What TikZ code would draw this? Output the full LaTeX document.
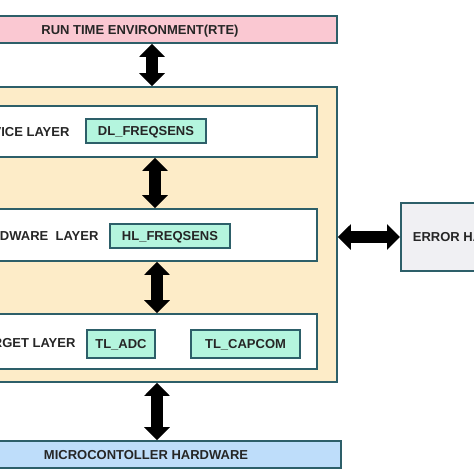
\documentclass[tikz,border=0pt]{standalone}
\usepackage{fontspec}
\setmainfont{Liberation Sans}
\usetikzlibrary{arrows.meta}
\definecolor{edge}{RGB}{45,95,105}
\definecolor{rtepink}{RGB}{250,200,210}
\definecolor{corecream}{RGB}{253,236,200}
\definecolor{modmint}{RGB}{180,245,222}
\definecolor{hwblue}{RGB}{190,221,250}
\definecolor{errgrey}{RGB}{240,240,243}
\newcommand{\boxfont}{\fontsize{13}{15}\selectfont\bfseries}
\tikzset{
    box/.style={draw=edge, line width=1.8pt, rectangle, inner sep=0pt, font={\boxfont}, text=black!85,
        text height=9.5pt, text depth=0pt},
    module/.style={box, fill=modmint, minimum height=24},
    layertext/.style={anchor=east, font={\boxfont}, text=black!85, text height=9.5pt, text depth=0pt},
    dblarrow/.style={line width=12pt, black,
        {Triangle[width=25pt,length=13pt]}-{Triangle[width=25pt,length=13pt]}}
}
\begin{document}
\begin{tikzpicture}[x=1pt, y=-1pt]
    \useasboundingbox (0,0) rectangle (474,474);
    \clip (0,0) rectangle (474,474);
    % outer blocks
    \node[box, fill=rtepink, minimum width=394, minimum height=27] (rte)
        at (140,29.5) {RUN TIME ENVIRONMENT(RTE)};
    \node[box, fill=corecream, minimum width=392, minimum height=295] (core) at (141,234.5) {};
    \node[box, fill=hwblue, minimum width=390, minimum height=27] (mcu)
        at (146,454.5) {MICROCONTOLLER HARDWARE};
    \node[box, fill=errgrey, minimum height=68, inner xsep=12pt, anchor=west] (err)
        at (400,237) {ERROR HANDLER\hspace{40pt}};
    % layers
    \node[box, fill=white, minimum width=352, minimum height=51] (dev) at (141,131.5) {};
    \node[box, fill=white, minimum width=352, minimum height=52] (hw) at (141,235) {};
    \node[box, fill=white, minimum width=352, minimum height=55] (tgt) at (141,341.5) {};
    \node[layertext] (devtxt) at (73,132) {DEVICE LAYER};
    \node[layertext] (hwtxt) at (102,236) {HARDWARE\ \ LAYER};
    \node[layertext] (tgttxt) at (79,343) {TARGET LAYER};
    % modules
    \node[module, minimum width=120] (dlf) at (146,131) {DL\_FREQSENS};
    \node[module, minimum width=120] (hlf) at (170,236) {HL\_FREQSENS};
    \node[module, minimum width=68, minimum height=28] (adc) at (121,344) {TL\_ADC};
    \node[module, minimum width=109, minimum height=28] (cap) at (245.5,344) {TL\_CAPCOM};
    % connections
    \draw[dblarrow] ([xshift=12pt]rte.south) -- ([xshift=11pt]core.north);
    \draw[dblarrow] ([xshift=14pt]dev.south) -- ([xshift=14pt]hw.north);
    \draw[dblarrow] ([xshift=16pt]hw.south) -- ([xshift=16pt]tgt.north);
    \draw[dblarrow] ([xshift=16pt]core.south) -- ([xshift=11pt]mcu.north);
    \draw[dblarrow] (core.east |- err.west) -- (err.west);
\end{tikzpicture}
\end{document}
